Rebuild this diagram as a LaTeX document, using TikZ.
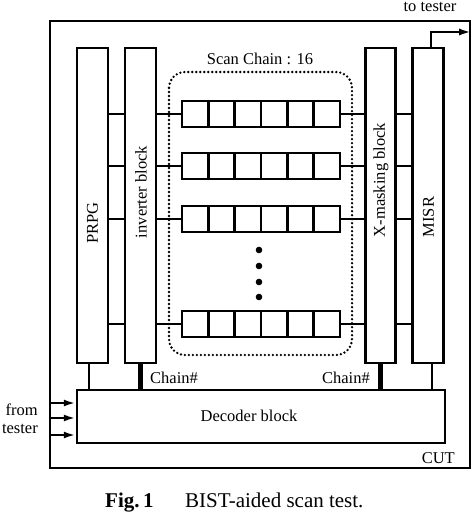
\documentclass[tikz,border=0pt]{standalone}
\usepackage{fontspec}
\setmainfont{Liberation Serif}
\usetikzlibrary{arrows.meta}
\tikzset{ blk/.style = { rectangle
                       , draw
                       , line width   = 2.4pt
                       , inner sep    = 0pt
                       },
          cell/.style = { rectangle
                        , draw
                        , line width   = 2.4pt
                        , inner sep    = 0pt
                        , minimum width  = 26.33pt
                        , minimum height = 26pt
                        },
          lbl/.style = { font = \fontsize{16.5}{18}\selectfont
                       , inner sep = 0pt
                       },
          w/.style = { line width = 2.4pt },
          bus/.style = { line width = 5pt },
          arr/.style = { line width = 2.4pt
                       , -{Latex[length=12pt,width=7pt]}
                       }
        }
\begin{document}
\begin{tikzpicture}[x=1pt,y=-1pt]
    \useasboundingbox (0,0) rectangle (474,513);
    % outer box and blocks
    \node[blk, minimum width=420pt, minimum height=447pt] (cut)  at (260,244.5) {};
    \node[blk, minimum width=31pt,  minimum height=315pt] (prpg) at (92.5,205.5) {};
    \node[blk, minimum width=31pt,  minimum height=315pt] (inv)  at (140.5,205.5) {};
    \node[blk, minimum width=30pt,  minimum height=315pt] (xmsk) at (380.5,205.5) {};
    \node[blk, minimum width=31pt,  minimum height=315pt] (misr) at (428,205.5) {};
    \node[blk, minimum width=368pt, minimum height=53pt]  (dec)  at (261,416.5) {};
    % block texts
    \node[lbl, rotate=90] (tprpg) at (92.5,223) {PRPG};
    \node[lbl, rotate=90] (tinv)  at (141,192) {inverter block};
    \node[lbl, rotate=90] (txmsk) at (381,180) {X-masking block};
    \node[lbl, rotate=90] (tmisr) at (428.5,217) {MISR};
    \node[lbl] (tdec) at (249,416) {Decoder block};
    % scan chains
    \foreach \r/\y in {1/114, 2/166, 3/219, 4/324} {
        \foreach \k in {1,...,6} {
            \node[cell] (c\r-\k) at ({182+26.33*(\k-0.5)},\y) {};
        }
        \draw[w] (c\r-1.west) -- (c\r-1.west -| inv.east);
        \draw[w] (c\r-6.east) -- (c\r-6.east -| xmsk.west);
        \draw[w] (c\r-1.west -| inv.west) -- (c\r-1.west -| prpg.east);
        \draw[w] (c\r-6.east -| xmsk.east) -- (c\r-6.east -| misr.west);
    }
    \foreach \y [count=\i] in {250,266,282,297} {
        \fill (259,\y) circle (3.3pt) coordinate (d\i);
    }
    \draw[line width=2.6pt, line cap=round, dash pattern=on 0pt off 4pt, rounded corners=16pt]
        (169,72) rectangle (352,355);
    \node[lbl, anchor=base] (tscan) at (260,65) {Scan Chain : 16};
    % decoder connections
    \draw[w]   (prpg.south -| 89,0)  -- (dec.north -| 89,0);
    \draw[bus] (inv.south)           -- (inv.south |- dec.north);
    \draw[bus] (xmsk.south)          -- (xmsk.south |- dec.north);
    \draw[w]   (misr.south -| 432,0) -- (dec.north -| 432,0);
    \node[lbl, anchor=base west] (ch1) at (150,383) {Chain\#};
    \node[lbl, anchor=base east] (ch2) at (370,383) {Chain\#};
    % tester in and out
    \foreach \y [count=\i] in {403,418,435} {
        \coordinate (in\i) at (cut.west |- 0,\y);
        \draw[arr] (in\i) -- (in\i -| dec.west);
    }
    \node[lbl, align=right, anchor=east] (tfrom) at (38,419) {from\\tester};
    \coordinate (out) at (cut.east |- 0,32);
    \draw[arr] (misr.north -| 431,0) |- (out);
    \node[lbl, anchor=base] (tto) at (430,12) {to tester};
    \node[lbl, anchor=base east] (tcut) at (455,463) {CUT};
    % caption
    \node[lbl, font=\fontsize{21}{24}\selectfont\bfseries, anchor=base west] (fig) at (105,507) {Fig.\,1};
    \node[lbl, font=\fontsize{21}{24}\selectfont, anchor=base west] (cap) at (185,507) {BIST-aided scan test.};
\end{tikzpicture}
\end{document}
